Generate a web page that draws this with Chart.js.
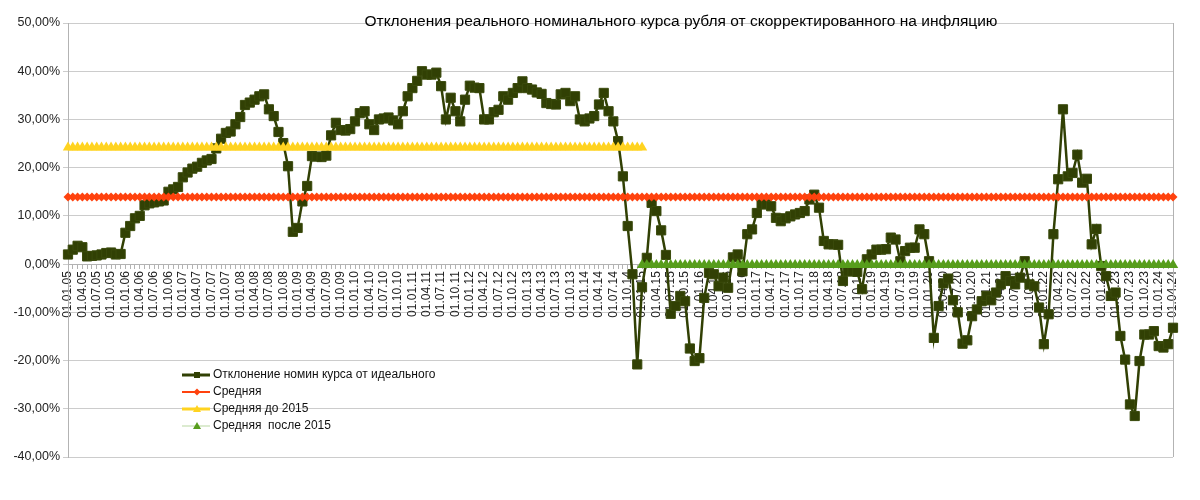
<!DOCTYPE html>
<html lang="ru">
<head>
<meta charset="utf-8">
<title>Отклонения реального номинального курса рубля</title>
<script src="https://cdn.jsdelivr.net/npm/chart.js@4.4.1/dist/chart.umd.min.js"></script>
<style>
  html, body { margin: 0; padding: 0; background: #fff; }
  #wrap { position: relative; width: 1200px; height: 500px; }
</style>
</head>
<body>
<div id="wrap"><canvas id="rubleChart" width="1200" height="500"></canvas></div>
<script>
// Monthly points, 01.01.05 .. 01.04.24 (values in %)
const FIRST_YEAR = 2005;
const deviation = [
   2.0,  3.0,  3.8,  3.5,  1.6,  1.7,  1.8,  2.0,  2.3,  2.4,  2.0,  2.1,
   6.5,  7.9,  9.5, 10.0, 12.2, 12.6, 12.8, 13.0, 13.2, 15.0, 15.5, 16.0,
  18.0, 19.0, 19.8, 20.2, 21.0, 21.5, 21.8, 24.0, 26.0, 27.2, 27.5, 29.0,
  30.5, 33.0, 33.5, 34.1, 34.8, 35.2, 32.1, 30.7, 27.4, 25.1, 20.3,  6.7,
   7.5, 13.0, 16.2, 22.4, 22.3, 22.2, 22.5, 26.7, 29.3, 27.8, 27.7, 28.0,
  29.6, 31.3, 31.7, 29.0, 27.8, 30.0, 30.2, 30.4, 29.8, 29.0, 31.7, 34.8,
  36.5, 38.0, 40.0, 39.3, 39.3, 39.7, 36.9, 30.0, 34.5, 31.7, 29.6, 34.1,
  37.0, 36.6, 36.5, 30.0, 30.0, 31.5, 32.0, 34.8, 34.1, 35.5, 36.5, 37.9,
  36.5, 36.2, 35.6, 35.3, 33.4, 33.2, 33.1, 35.2, 35.5, 33.8, 34.8, 30.0,
  29.6, 30.2, 30.7, 33.1, 35.5, 31.7, 29.6, 25.5, 18.2,  7.9, -2.1, -20.8,
  -4.8,  1.3, 12.7, 11.0,  7.0,  1.9, -10.3, -8.7, -6.6, -7.7, -17.5, -20.1,
 -19.5, -7.0, -1.8, -2.1, -4.6, -2.8, -4.9,  1.4,  2.0, -1.5,  6.2,  7.2,
  10.6, 12.4, 12.4, 12.0,  9.6,  8.9,  9.5,  9.9, 10.3, 10.6, 11.0, 13.4,
  14.4, 11.7,  4.8,  4.1,  4.1,  4.0, -3.5, -1.5, -1.5, -1.6, -5.2,  1.0,
   2.0,  3.0,  3.0,  3.1,  5.5,  5.1,  0.6,  2.7,  3.4,  3.4,  7.2,  6.2,
   0.6, -15.3, -8.7, -4.0, -3.0, -7.5, -10.0, -16.5, -15.8, -10.8, -9.4, -7.7,
  -6.6, -7.5, -5.9, -4.2, -2.5, -3.5, -4.2, -2.8,  0.6, -4.2, -4.6, -9.0,
 -16.6, -10.4,  6.2, 17.6, 32.1, 18.2, 18.9, 22.7, 16.9, 17.7,  4.1,  7.3,
  -0.4, -2.5, -6.6, -5.9, -14.9, -19.8, -29.1, -31.5, -20.1, -14.6, -14.6, -13.9,
 -17.0, -17.3, -16.6, -13.2
];

// averages (flat lines)
const avgAll = 13.9;
const avgBefore2015 = 24.2;
const avgAfter2015 = -0.2;
const SPLIT_INDEX = 120; // 01.01.15

const yMin = -40, yMax = 50, yStep = 10;

const seriesNames = [
  'Отклонение номин курса от идеального',
  'Средняя',
  'Средняя до 2015',
  'Средняя  после 2015'
];
const chartTitle = 'Отклонения реального номинального курса рубля от скорректированного на инфляцию';

// category labels 01.MM.YY
const labels = [];
for (let i = 0; i < deviation.length; i++) {
  const m = (i % 12) + 1;
  const y = (FIRST_YEAR + Math.floor(i / 12)) % 100;
  labels.push('01.' + String(m).padStart(2, '0') + '.' + String(y).padStart(2, '0'));
}

const FONT = '"Liberation Sans", Arial, sans-serif';

// title + legend sitting inside the plot like the office chart does
const overlayPlugin = {
  id: 'overlay',
  beforeDatasetsDraw(chart) {
    const { ctx, chartArea } = chart;
    ctx.save();
    ctx.strokeStyle = '#b3b3b3';
    ctx.lineWidth = 1;
    ctx.beginPath();
    ctx.moveTo(chartArea.right + 0.5, chartArea.top);
    ctx.lineTo(chartArea.right + 0.5, chartArea.bottom);
    ctx.stroke();
    ctx.restore();
  },
  afterDraw(chart) {
    const ctx = chart.ctx;
    ctx.save();
    ctx.fillStyle = '#000';
    ctx.font = '15.5px ' + FONT;
    ctx.textAlign = 'center';
    ctx.textBaseline = 'middle';
    ctx.fillText(chartTitle, 681, 22);

    const rows = [
      { y: 375, color: '#314004', line: '#314004', lw: 3, shape: 'rect' },
      { y: 392, color: '#ff420e', line: '#ff420e', lw: 2, shape: 'diamond' },
      { y: 409, color: '#ffd320', line: '#ffd320', lw: 3, shape: 'tri' },
      { y: 426, color: '#579d1c', line: '#dcebd0', lw: 2, shape: 'tri' }
    ];
    ctx.font = '12px ' + FONT;
    ctx.textAlign = 'left';
    rows.forEach((r, i) => {
      ctx.strokeStyle = r.line;
      ctx.lineWidth = r.lw;
      ctx.beginPath();
      ctx.moveTo(182, r.y);
      ctx.lineTo(210, r.y);
      ctx.stroke();
      ctx.fillStyle = r.color;
      const cx = 197;
      ctx.beginPath();
      if (r.shape === 'rect') {
        ctx.rect(cx - 3, r.y - 3, 6, 6);
      } else if (r.shape === 'diamond') {
        ctx.moveTo(cx, r.y - 3.5); ctx.lineTo(cx + 3.5, r.y);
        ctx.lineTo(cx, r.y + 3.5); ctx.lineTo(cx - 3.5, r.y);
        ctx.closePath();
      } else {
        ctx.moveTo(cx, r.y - 4); ctx.lineTo(cx + 4, r.y + 3);
        ctx.lineTo(cx - 4, r.y + 3); ctx.closePath();
      }
      ctx.fill();
      ctx.fillStyle = '#111';
      ctx.fillText(seriesNames[i], 213, r.y);
    });
    ctx.restore();
  }
};

const ctx = document.getElementById('rubleChart');
new Chart(ctx, {
  type: 'line',
  data: {
    labels: labels,
    datasets: [
      {
        label: seriesNames[0],
        data: deviation,
        borderColor: '#314004',
        backgroundColor: '#314004',
        borderWidth: 2.5,
        pointStyle: 'rect',
        pointRadius: 6.5,
        pointBorderWidth: 1,
        pointBorderColor: '#3a4a0c',
        clip: false,
        order: 4
      },
      {
        label: seriesNames[1],
        data: labels.map(() => avgAll),
        borderColor: '#ff420e',
        backgroundColor: '#ff420e',
        borderWidth: 2,
        pointStyle: 'rectRot',
        pointRadius: 4.5,
        pointBorderWidth: 0,
        clip: false,
        order: 3
      },
      {
        label: seriesNames[2],
        data: labels.map((_, i) => i <= SPLIT_INDEX ? avgBefore2015 : null),
        borderColor: '#ffd320',
        backgroundColor: '#ffd320',
        borderWidth: 2,
        pointStyle: 'triangle',
        pointRadius: 6,
        pointBorderWidth: 0,
        clip: false,
        order: 2
      },
      {
        label: seriesNames[3],
        data: labels.map((_, i) => i >= SPLIT_INDEX ? avgAfter2015 : null),
        borderColor: '#579d1c',
        backgroundColor: '#579d1c',
        borderWidth: 2,
        pointStyle: 'triangle',
        pointRadius: 6,
        pointBorderWidth: 0,
        clip: false,
        order: 1
      }
    ]
  },
  options: {
    responsive: false,
    animation: false,
    layout: { padding: { left: 0, right: 27, top: 23, bottom: 43 } },
    plugins: {
      legend: { display: false },
      title: { display: false },
      tooltip: { enabled: false }
    },
    scales: {
      x: {
        type: 'category',
        position: { y: 0 },
        grid: { display: true, drawOnChartArea: false, drawTicks: true, tickLength: 4, color: '#b3b3b3' },
        border: { display: true, color: '#b3b3b3' },
        ticks: {
          autoSkip: false,
          minRotation: 90,
          maxRotation: 90,
          padding: 3,
          color: '#222',
          font: { family: FONT, size: 12 },
          callback: (v, i) => (i % 3 === 0 ? labels[i] : '')
        }
      },
      y: {
        min: yMin,
        max: yMax,
        afterFit: (scale) => { scale.width = 68; },
        grid: { color: '#cccccc', tickLength: 5 },
        border: { display: true, color: '#b3b3b3' },
        ticks: {
          stepSize: yStep,
          padding: 3,
          color: '#222',
          font: { family: FONT, size: 12.5 },
          callback: (v) => v.toFixed(2).replace('.', ',') + '%'
        }
      }
    }
  },
  plugins: [overlayPlugin]
});
</script>
</body>
</html>
